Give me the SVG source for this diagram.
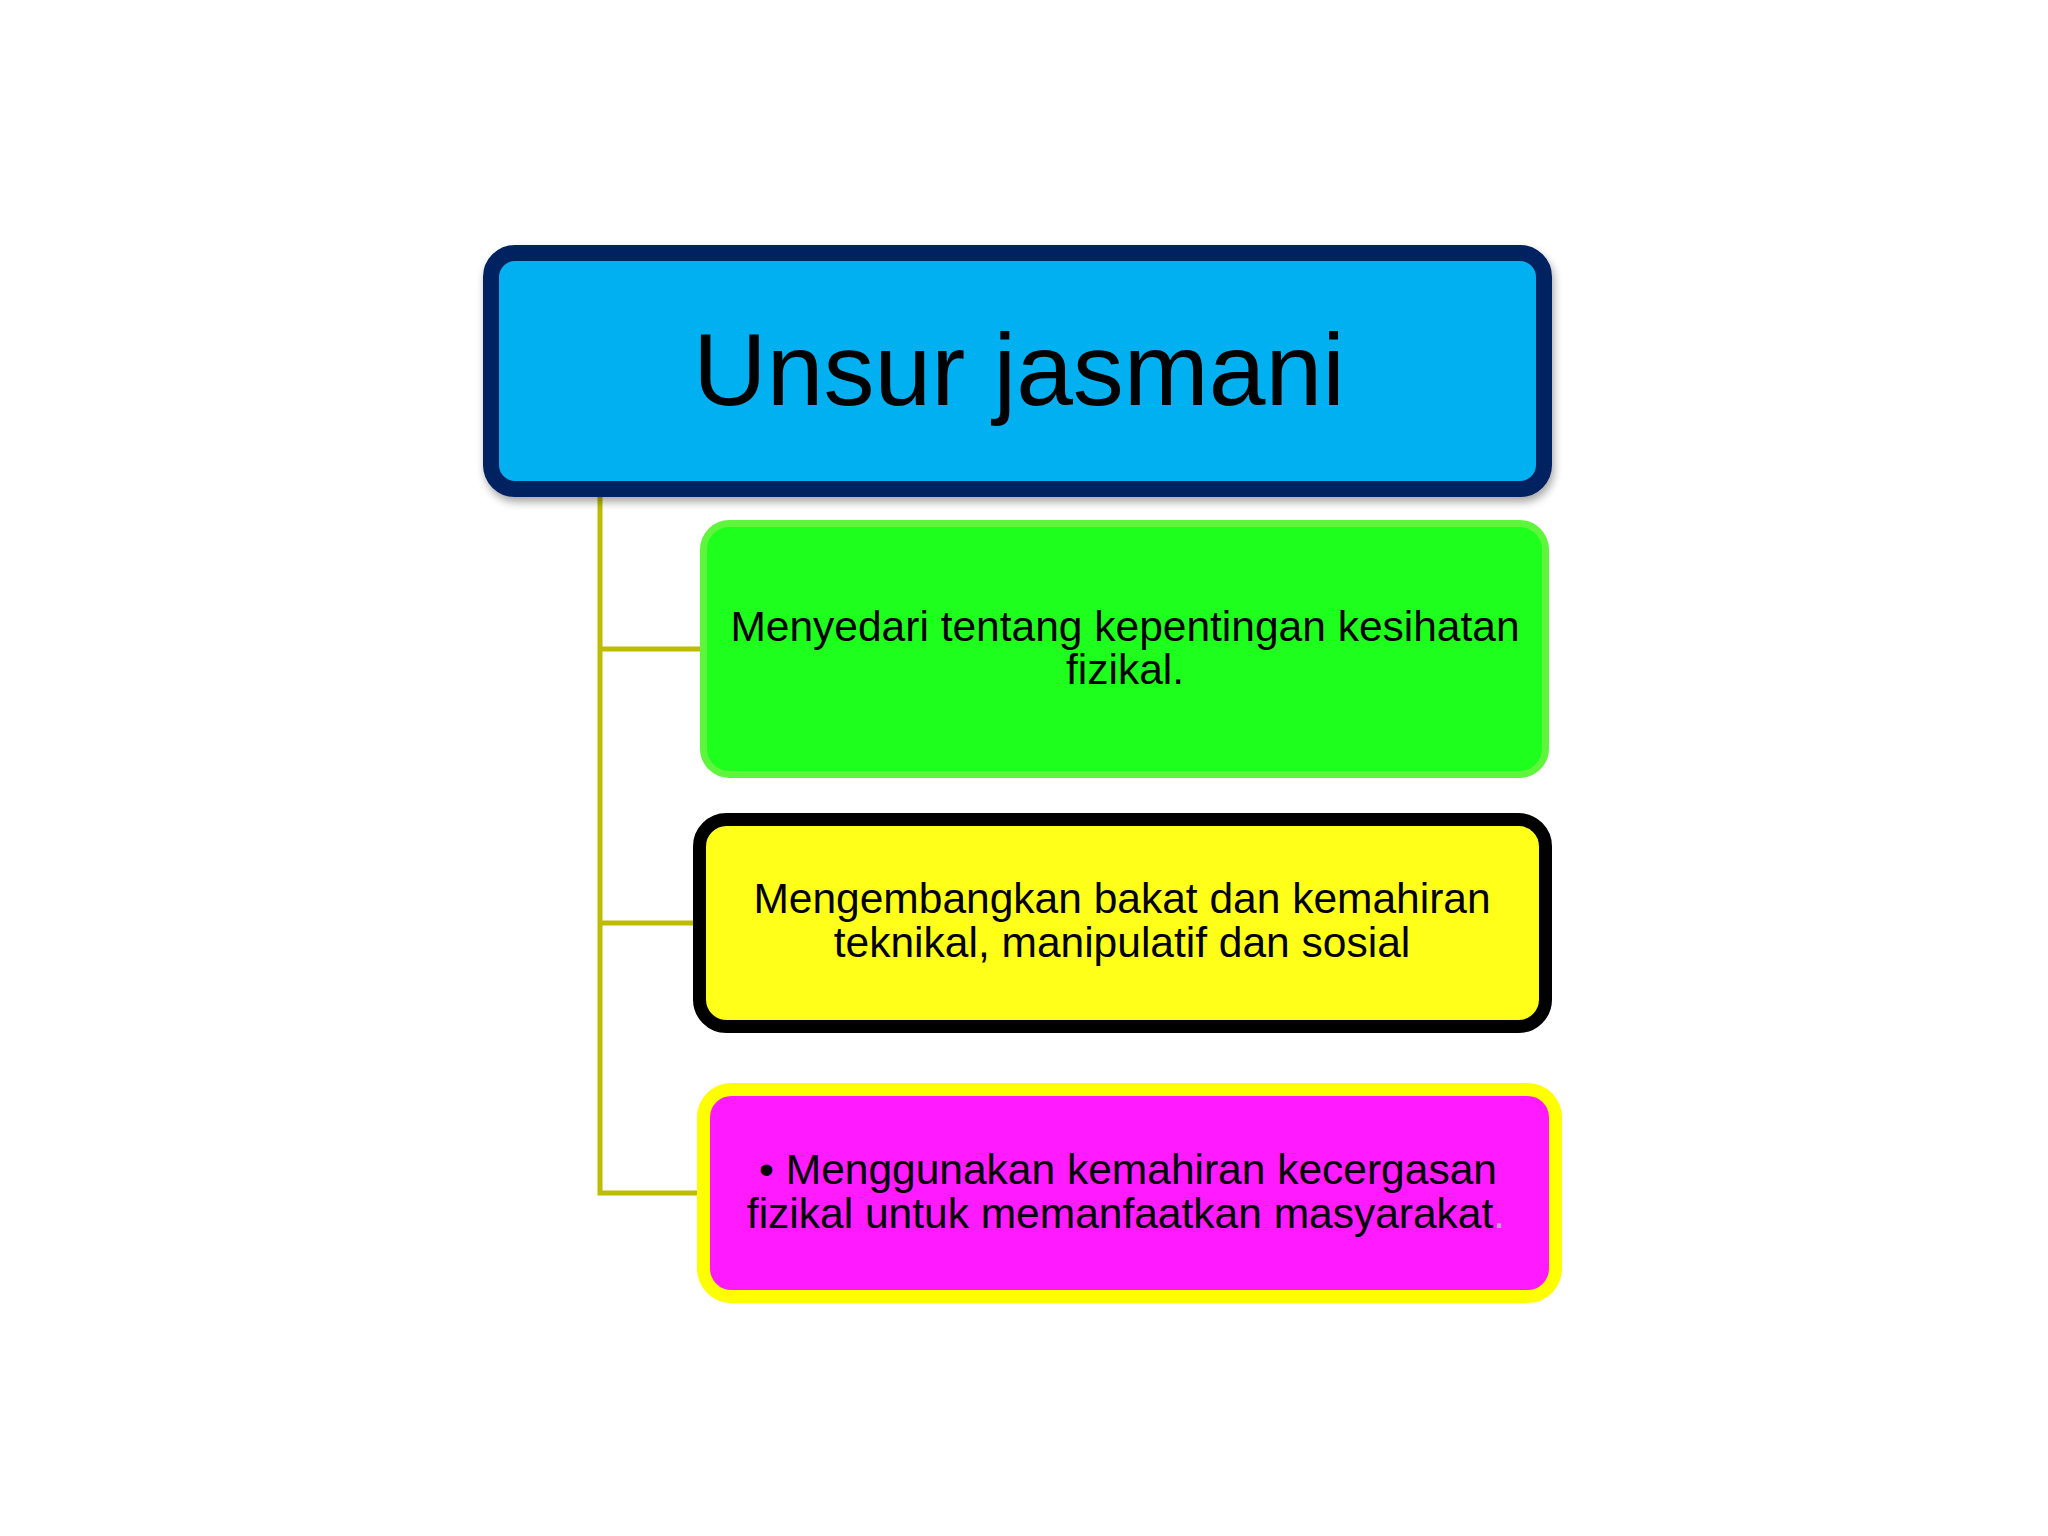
<svg xmlns="http://www.w3.org/2000/svg" width="2048" height="1536" viewBox="0 0 2048 1536">
  <defs>
    <filter id="shadow" x="-5%" y="-10%" width="110%" height="125%">
      <feDropShadow dx="2" dy="5" stdDeviation="4" flood-color="#000" flood-opacity="0.35"/>
    </filter>
  </defs>
  <style>
    .lbl { font-family: "Liberation Sans", Arial, sans-serif; fill: #000; text-anchor: middle; }
    .small { font-size: 42.5px; }
    .conn { fill: none; stroke: #bcbc00; stroke-width: 5; }
  </style>
  <rect x="0" y="0" width="2048" height="1536" fill="#ffffff"/>

  <g id="connectors">
    <path class="conn" d="M600,490 V1193 H698"/>
    <path class="conn" d="M600,649 H702"/>
    <path class="conn" d="M600,923 H695"/>
  </g>

  <g id="node-root">
    <rect x="491" y="253" width="1053" height="236" rx="24" ry="24" fill="#00b0f0" stroke="#002060" stroke-width="16" filter="url(#shadow)"/>
    <text class="lbl" x="1019" y="405" font-size="102">Unsur jasmani</text>
  </g>

  <g id="node-1">
    <rect x="703.5" y="523.5" width="842" height="251" rx="26" ry="26" fill="#1eff1e" stroke="#5ef53c" stroke-width="7"/>
    <text class="lbl small" x="1125" y="641">Menyedari tentang kepentingan kesihatan</text>
    <text class="lbl small" x="1125" y="684">fizikal.</text>
  </g>

  <g id="node-2">
    <rect x="699.5" y="819.5" width="846" height="207" rx="27" ry="27" fill="#ffff19" stroke="#000000" stroke-width="13"/>
    <text class="lbl small" x="1122" y="913">Mengembangkan bakat dan kemahiran</text>
    <text class="lbl small" x="1122" y="957">teknikal, manipulatif dan sosial</text>
  </g>

  <g id="node-3">
    <rect x="703.5" y="1089.5" width="852" height="207" rx="28" ry="28" fill="#ff1aff" stroke="#ffff00" stroke-width="13"/>
    <text class="lbl small" x="1128" y="1184">• Menggunakan kemahiran kecergasan</text>
    <text class="lbl small" x="1126" y="1228">fizikal untuk memanfaatkan masyarakat<tspan fill="#c8a0c8">.</tspan></text>
  </g>
</svg>
